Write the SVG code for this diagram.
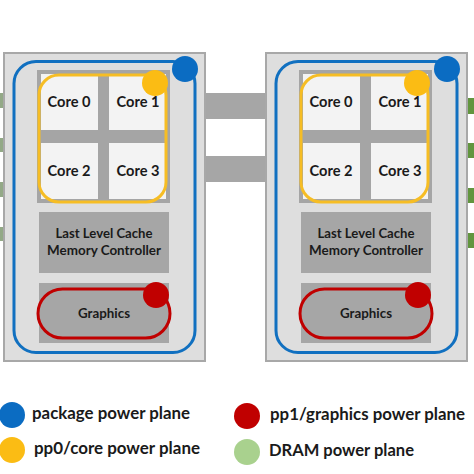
<svg xmlns="http://www.w3.org/2000/svg" width="474" height="474" viewBox="0 0 474 474">
<defs>
<style>
.pkg{fill:#dedede;stroke:#a8a8a8;stroke-width:2}
.core{fill:#f3f3f3;stroke:#a5a5a5;stroke-width:3}
.blk{fill:#a6a6a6}
.bar{fill:#a6a6a6}
.blue{fill:none;stroke:#1170c0;stroke-width:3}
.yel{fill:none;stroke:#f6bd24;stroke-width:3}
.red{fill:none;stroke:#c00000;stroke-width:3}
.gl{fill:#93a987}
.gr{fill:#62953f}
text{font-family:Lato,"Open Sans","Liberation Sans",sans-serif;font-weight:bold;fill:#1a1a1a;text-anchor:middle}
.ct{font-size:15px}
.bt{font-size:13.5px}
.lg{font-size:17px;text-anchor:start}
</style>
<g id="pkgtpl">
<rect class="pkg" x="4" y="53" width="201" height="308"/>
<rect class="blue" x="14" y="61.5" width="181" height="291" rx="22"/>
<rect x="37" y="70" width="133" height="133" fill="#a5a5a5"/>
<rect class="core" x="39.5" y="72.5" width="60" height="59"/>
<rect class="core" x="107.5" y="72.5" width="60" height="59"/>
<rect class="core" x="39.5" y="141.5" width="60" height="59"/>
<rect class="core" x="107.5" y="141.5" width="60" height="59"/>
<text class="ct" x="69" y="107" textLength="43" lengthAdjust="spacingAndGlyphs">Core 0</text>
<text class="ct" x="138" y="107" textLength="43" lengthAdjust="spacingAndGlyphs">Core 1</text>
<text class="ct" x="69" y="176" textLength="43" lengthAdjust="spacingAndGlyphs">Core 2</text>
<text class="ct" x="138" y="176" textLength="43" lengthAdjust="spacingAndGlyphs">Core 3</text>
<rect class="yel" x="39" y="75" width="127" height="127" rx="20"/>
<circle cx="155" cy="83" r="13" fill="#fbbc14"/>
<circle cx="185" cy="69" r="13" fill="#0b6cc2"/>
<rect class="blk" x="39" y="212" width="130" height="61"/>
<text class="bt" x="104" y="238" textLength="97" lengthAdjust="spacingAndGlyphs">Last Level Cache</text>
<text class="bt" x="104" y="255" textLength="114" lengthAdjust="spacingAndGlyphs">Memory Controller</text>
<rect class="blk" x="39" y="283" width="130" height="60"/>
<rect class="red" x="38" y="289" width="132" height="49" rx="24.5"/>
<circle cx="156" cy="295" r="13" fill="#c00000"/>
<text class="bt" x="104" y="318" textLength="52" lengthAdjust="spacingAndGlyphs">Graphics</text>
</g>
</defs>
<rect width="474" height="474" fill="#ffffff"/>
<g id="connectors">
<rect class="bar" x="205" y="93" width="60" height="26"/>
<rect class="bar" x="205" y="156" width="60" height="26"/>
<rect class="gl" x="0" y="93" width="4" height="15"/>
<rect class="gl" x="0" y="138" width="4" height="14"/>
<rect class="gl" x="0" y="182" width="4" height="15"/>
<rect class="gl" x="0" y="227" width="4" height="14"/>
<rect class="gr" x="468" y="98" width="6" height="16"/>
<rect class="gr" x="468" y="143" width="6" height="15"/>
<rect class="gr" x="468" y="188" width="6" height="15"/>
<rect class="gr" x="468" y="233" width="6" height="15"/>
</g>
<g id="package0"><use href="#pkgtpl"/></g>
<g id="package1"><use href="#pkgtpl" transform="translate(262,0)"/></g>
<g id="legend">
<circle cx="12" cy="415" r="13" fill="#0b6cc2"/>
<text class="lg" x="32" y="419" textLength="158" lengthAdjust="spacingAndGlyphs">package power plane</text>
<circle cx="12" cy="450" r="13" fill="#fbbc14"/>
<text class="lg" x="34" y="454" textLength="166" lengthAdjust="spacingAndGlyphs">pp0/core power plane</text>
<circle cx="247" cy="416" r="13" fill="#c00000"/>
<text class="lg" x="270" y="420" textLength="195" lengthAdjust="spacingAndGlyphs">pp1/graphics power plane</text>
<circle cx="247" cy="452" r="13" fill="#a9d18e"/>
<text class="lg" x="269" y="456" textLength="145" lengthAdjust="spacingAndGlyphs">DRAM power plane</text>
</g>
</svg>
